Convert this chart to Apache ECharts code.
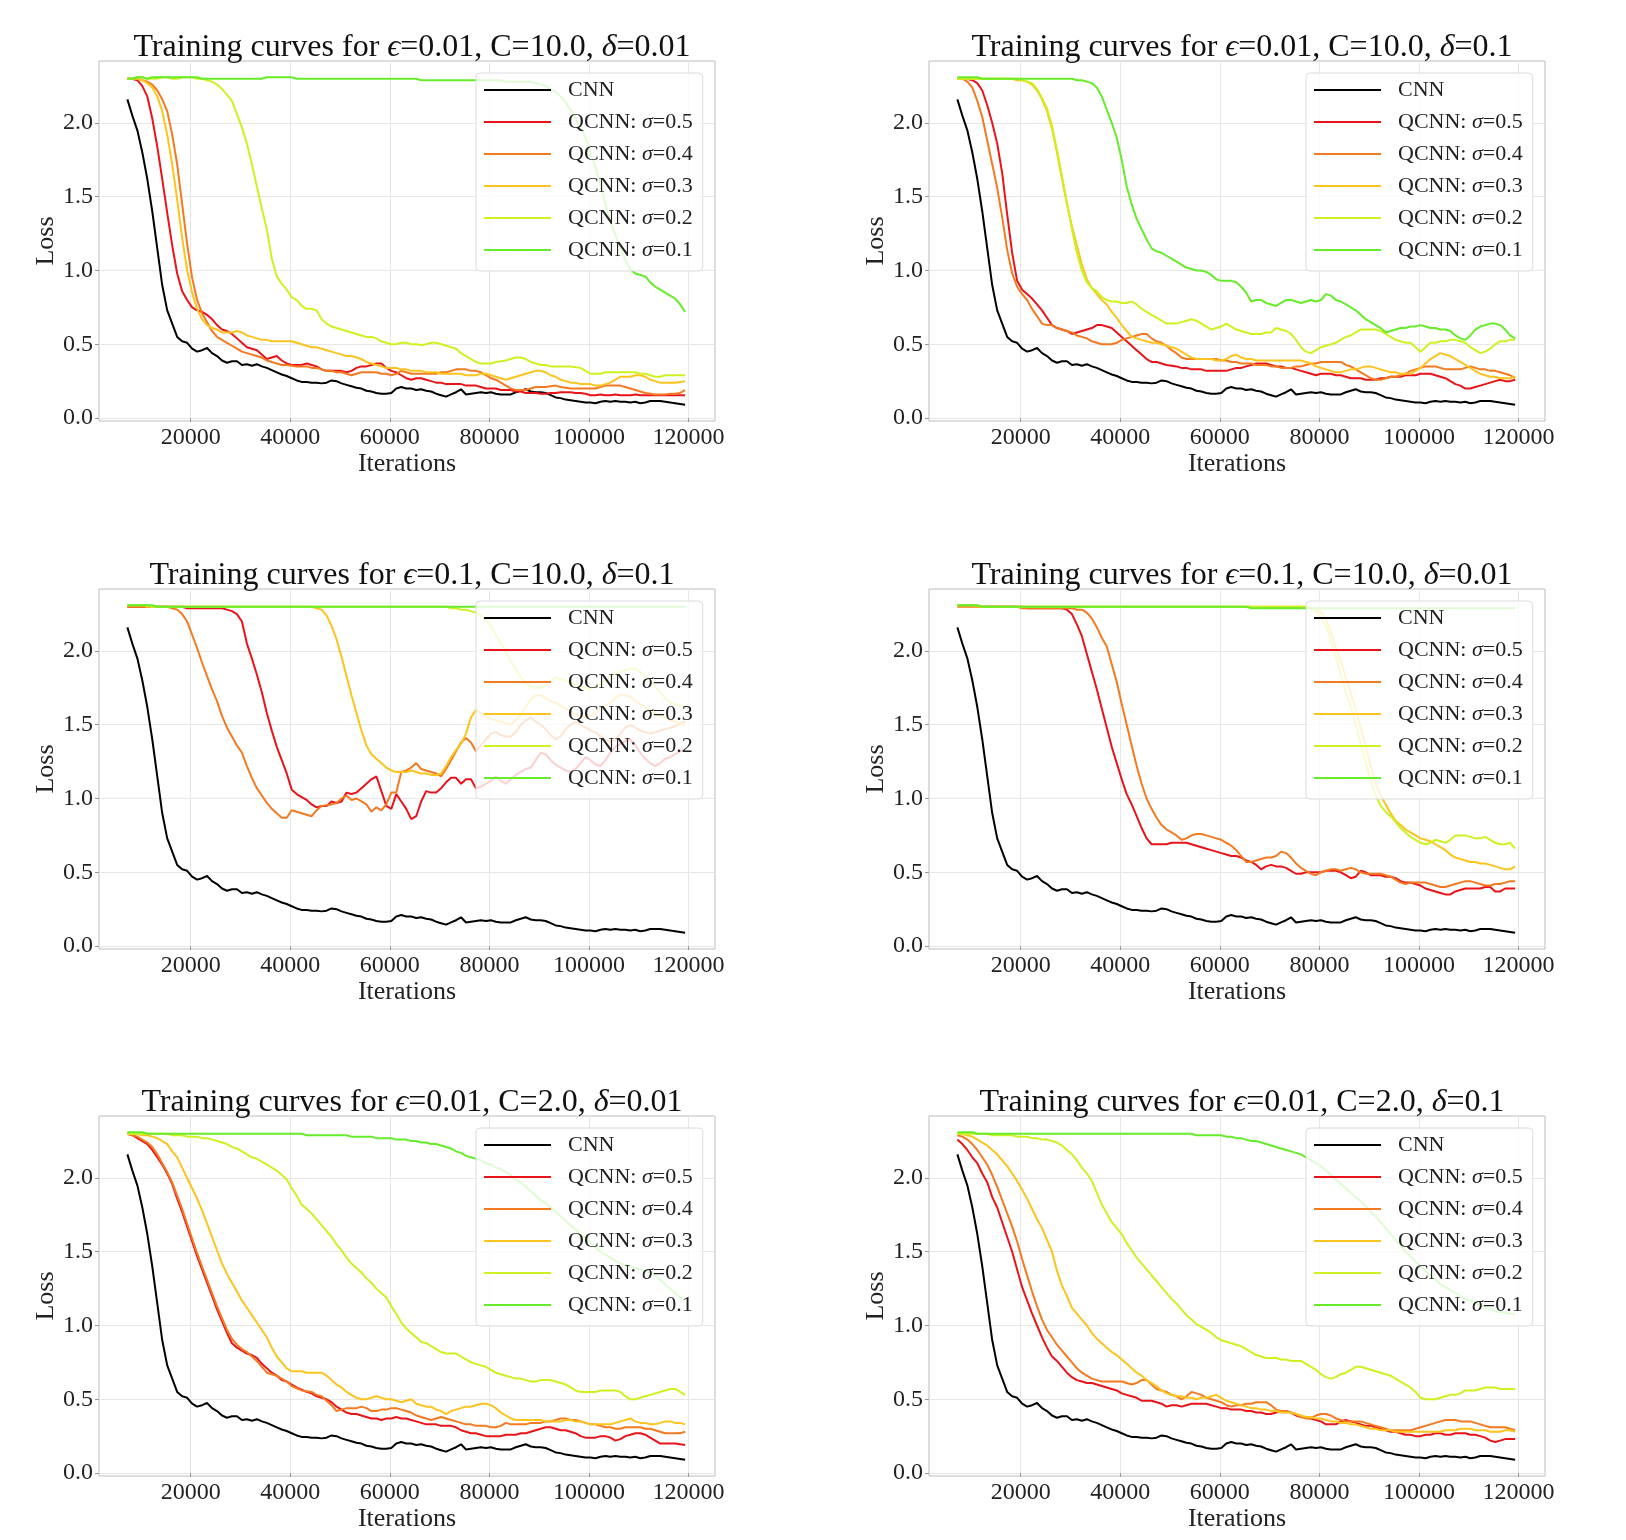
<!DOCTYPE html>
<html><head><meta charset="utf-8">
<script src="https://cdn.jsdelivr.net/npm/echarts@6/dist/echarts.min.js"></script>
<style>html,body{margin:0;padding:0;background:#fff}#c{width:1626px;height:1540px}</style>
</head><body><div id="c"></div><script>
// ---------- data ----------
const ITER = [
 7300, 8300, 9300, 10300, 11300, 12300, 13300, 14300, 15300, 16300,
 17300, 18300, 19300, 20300, 21300, 22300, 23300, 24300, 25300, 26300,
 27300, 28300, 29300, 30300, 31300, 32300, 33300, 34300, 35300, 36300,
 37300, 38300, 39300, 40300, 41300, 42300, 43300, 44300, 45300, 46300,
 47300, 48300, 49300, 50300, 51300, 52300, 53300, 54300, 55300, 56300,
 57300, 58300, 59300, 60300, 61300, 62300, 63300, 64300, 65300, 66300,
 67300, 68300, 69300, 70300, 71300, 72300, 73300, 74300, 75300, 76300,
 77300, 78300, 79300, 80300, 81300, 82300, 83300, 84300, 85300, 86300,
 87300, 88300, 89300, 90300, 91300, 92300, 93300, 94300, 95300, 96300,
 97300, 98300, 99300, 100300, 101300, 102300, 103300, 104300, 105300, 106300,
 107300, 108300, 109300, 110300, 111300, 112300, 113300, 114300, 115300, 116300,
 117300, 118300, 119300];

const X_TICKS = [20000, 40000, 60000, 80000, 100000, 120000];
const Y_TICKS = [0, 0.5, 1.0, 1.5, 2.0];

const SERIES_NAMES = ['CNN', 'QCNN: σ=0.5', 'QCNN: σ=0.4', 'QCNN: σ=0.3', 'QCNN: σ=0.2', 'QCNN: σ=0.1'];
const SERIES_COLORS = ['#000000', '#e8141a', '#f47a22', '#fcc41e', '#cdf222', '#66ec2a'];

const PANEL_TITLES = [
 ['0.01', '10.0', '0.01'],
 ['0.01', '10.0', '0.1'],
 ['0.1', '10.0', '0.1'],
 ['0.1', '10.0', '0.01'],
 ['0.01', '2.0', '0.01'],
 ['0.01', '2.0', '0.1']];

const cnnLoss = [
 2.16, 2.05, 1.95, 1.80, 1.62, 1.40, 1.15, 0.90, 0.73, 0.64,
 0.55, 0.52, 0.51, 0.47, 0.45, 0.46, 0.475, 0.44, 0.42, 0.39,
 0.375, 0.385, 0.385, 0.36, 0.365, 0.355, 0.365, 0.35, 0.34, 0.325,
 0.31, 0.295, 0.285, 0.27, 0.255, 0.245, 0.245, 0.24, 0.24, 0.235,
 0.24, 0.255, 0.25, 0.235, 0.225, 0.215, 0.205, 0.2, 0.185, 0.18,
 0.17, 0.165, 0.165, 0.17, 0.2, 0.21, 0.2, 0.2, 0.19, 0.195,
 0.185, 0.18, 0.165, 0.155, 0.145, 0.16, 0.175, 0.195, 0.16, 0.165,
 0.17, 0.175, 0.17, 0.175, 0.165, 0.16, 0.16, 0.16, 0.175, 0.185,
 0.195, 0.18, 0.175, 0.175, 0.17, 0.155, 0.14, 0.135, 0.125, 0.12,
 0.115, 0.11, 0.105, 0.105, 0.1, 0.11, 0.115, 0.11, 0.115, 0.11,
 0.11, 0.105, 0.11, 0.1, 0.105, 0.115, 0.115, 0.115, 0.11, 0.105,
 0.1, 0.095, 0.09];

// Panel 1: eps=0.01, C=10.0, delta=0.01
const p1_s05 = [
 2.30, 2.30, 2.29, 2.25, 2.18, 2.03, 1.84, 1.62, 1.39, 1.17,
 0.98, 0.86, 0.80, 0.75, 0.73, 0.72, 0.70, 0.67, 0.63, 0.60,
 0.59, 0.57, 0.54, 0.51, 0.48, 0.47, 0.46, 0.43, 0.40, 0.41,
 0.42, 0.39, 0.37, 0.36, 0.36, 0.36, 0.37, 0.36, 0.35, 0.33,
 0.32, 0.32, 0.32, 0.32, 0.31, 0.32, 0.34, 0.35, 0.35, 0.36,
 0.37, 0.37, 0.34, 0.32, 0.31, 0.29, 0.27, 0.26, 0.27, 0.27,
 0.26, 0.25, 0.24, 0.24, 0.23, 0.23, 0.23, 0.23, 0.22, 0.22,
 0.22, 0.21, 0.20, 0.20, 0.20, 0.19, 0.19, 0.19, 0.18, 0.18,
 0.17, 0.17, 0.17, 0.165, 0.165, 0.17, 0.17, 0.175, 0.175, 0.175,
 0.17, 0.17, 0.165, 0.155, 0.155, 0.16, 0.155, 0.155, 0.16, 0.155,
 0.155, 0.155, 0.16, 0.155, 0.155, 0.155, 0.155, 0.155, 0.155, 0.155,
 0.155, 0.155, 0.155];
const p1_s04 = [
 2.30, 2.30, 2.30, 2.29, 2.28, 2.26, 2.22, 2.16, 2.08, 1.92,
 1.72, 1.45, 1.18, 0.95, 0.80, 0.71, 0.65, 0.59, 0.55, 0.53,
 0.51, 0.49, 0.47, 0.45, 0.44, 0.43, 0.42, 0.41, 0.39, 0.38,
 0.37, 0.36, 0.36, 0.355, 0.35, 0.35, 0.35, 0.34, 0.34, 0.33,
 0.32, 0.32, 0.31, 0.31, 0.30, 0.29, 0.30, 0.31, 0.31, 0.31,
 0.31, 0.30, 0.30, 0.29, 0.30, 0.32, 0.31, 0.30, 0.30, 0.30,
 0.30, 0.30, 0.30, 0.31, 0.31, 0.32, 0.33, 0.33, 0.33, 0.32,
 0.32, 0.31, 0.29, 0.27, 0.26, 0.24, 0.22, 0.20, 0.19, 0.19,
 0.19, 0.20, 0.21, 0.21, 0.21, 0.215, 0.22, 0.21, 0.205, 0.20,
 0.20, 0.20, 0.20, 0.20, 0.20, 0.21, 0.22, 0.22, 0.22, 0.22,
 0.21, 0.20, 0.19, 0.18, 0.17, 0.165, 0.16, 0.16, 0.16, 0.165,
 0.165, 0.17, 0.19];
const p1_s03 = [
 2.30, 2.30, 2.30, 2.29, 2.27, 2.24, 2.18, 2.08, 1.92, 1.72,
 1.48, 1.22, 1.00, 0.85, 0.74, 0.67, 0.63, 0.61, 0.60, 0.58,
 0.58, 0.58, 0.59, 0.58, 0.56, 0.55, 0.54, 0.53, 0.53, 0.52,
 0.52, 0.52, 0.52, 0.52, 0.51, 0.50, 0.49, 0.48, 0.48, 0.47,
 0.46, 0.45, 0.44, 0.43, 0.42, 0.42, 0.41, 0.40, 0.38, 0.37,
 0.36, 0.35, 0.34, 0.34, 0.34, 0.33, 0.33, 0.32, 0.32, 0.32,
 0.31, 0.31, 0.31, 0.30, 0.30, 0.30, 0.30, 0.30, 0.29, 0.29,
 0.29, 0.30, 0.30, 0.29, 0.28, 0.27, 0.26, 0.27, 0.28, 0.29,
 0.30, 0.31, 0.32, 0.32, 0.31, 0.29, 0.28, 0.26, 0.25, 0.24,
 0.24, 0.23, 0.23, 0.23, 0.22, 0.22, 0.23, 0.24, 0.26, 0.28,
 0.28, 0.28, 0.29, 0.29, 0.28, 0.26, 0.25, 0.24, 0.24, 0.24,
 0.24, 0.245, 0.25];
const p1_s02 = [
 2.30, 2.30, 2.31, 2.31, 2.30, 2.30, 2.30, 2.31, 2.31, 2.30,
 2.30, 2.31, 2.31, 2.31, 2.30, 2.30, 2.29, 2.28, 2.26, 2.23,
 2.19, 2.15, 2.06, 1.97, 1.86, 1.72, 1.57, 1.42, 1.28, 1.08,
 0.96, 0.91, 0.87, 0.82, 0.80, 0.76, 0.74, 0.74, 0.73, 0.67,
 0.64, 0.62, 0.61, 0.60, 0.59, 0.58, 0.57, 0.56, 0.55, 0.55,
 0.54, 0.52, 0.51, 0.50, 0.50, 0.51, 0.51, 0.50, 0.50, 0.495,
 0.50, 0.51, 0.51, 0.50, 0.49, 0.48, 0.47, 0.44, 0.42, 0.40,
 0.38, 0.37, 0.37, 0.37, 0.38, 0.385, 0.39, 0.40, 0.41, 0.41,
 0.40, 0.38, 0.37, 0.36, 0.36, 0.35, 0.35, 0.35, 0.35, 0.35,
 0.345, 0.34, 0.32, 0.30, 0.30, 0.30, 0.31, 0.31, 0.31, 0.31,
 0.31, 0.31, 0.31, 0.30, 0.30, 0.29, 0.28, 0.28, 0.29, 0.29,
 0.29, 0.29, 0.29];
const p1_s01 = [
 2.30, 2.30, 2.31, 2.31, 2.30, 2.31, 2.31, 2.31, 2.31, 2.31,
 2.31, 2.31, 2.31, 2.31, 2.31, 2.30, 2.30, 2.30, 2.30, 2.30,
 2.30, 2.30, 2.30, 2.30, 2.30, 2.30, 2.30, 2.30, 2.31, 2.31,
 2.31, 2.31, 2.31, 2.31, 2.30, 2.30, 2.30, 2.30, 2.30, 2.30,
 2.30, 2.30, 2.30, 2.30, 2.30, 2.30, 2.30, 2.30, 2.30, 2.30,
 2.30, 2.30, 2.30, 2.30, 2.30, 2.30, 2.30, 2.30, 2.30, 2.29,
 2.29, 2.29, 2.29, 2.29, 2.29, 2.29, 2.29, 2.29, 2.29, 2.29,
 2.29, 2.29, 2.29, 2.29, 2.29, 2.29, 2.28, 2.28, 2.28, 2.28,
 2.28, 2.28, 2.27, 2.26, 2.25, 2.23, 2.21, 2.18, 2.14, 2.09,
 2.03, 1.97, 1.90, 1.80, 1.70, 1.58, 1.45, 1.33, 1.24, 1.15,
 1.07, 1.01, 0.98, 0.97, 0.96, 0.92, 0.89, 0.87, 0.85, 0.83,
 0.81, 0.77, 0.72];

// Panel 2: eps=0.01, C=10.0, delta=0.1
const p2_s05 = [
 2.30, 2.30, 2.30, 2.29, 2.27, 2.22, 2.12, 2.00, 1.86, 1.66,
 1.38, 1.12, 0.93, 0.87, 0.84, 0.81, 0.77, 0.73, 0.68, 0.63,
 0.61, 0.60, 0.59, 0.57, 0.58, 0.59, 0.60, 0.61, 0.63, 0.63,
 0.62, 0.61, 0.58, 0.55, 0.52, 0.49, 0.46, 0.43, 0.40, 0.38,
 0.38, 0.37, 0.36, 0.355, 0.35, 0.34, 0.34, 0.33, 0.33, 0.33,
 0.32, 0.32, 0.32, 0.32, 0.32, 0.33, 0.34, 0.34, 0.35, 0.36,
 0.37, 0.37, 0.37, 0.36, 0.35, 0.35, 0.34, 0.34, 0.33, 0.32,
 0.31, 0.30, 0.29, 0.30, 0.30, 0.30, 0.29, 0.29, 0.28, 0.27,
 0.27, 0.27, 0.26, 0.26, 0.26, 0.27, 0.27, 0.28, 0.28, 0.28,
 0.29, 0.29, 0.29, 0.30, 0.30, 0.30, 0.29, 0.28, 0.27, 0.25,
 0.23, 0.22, 0.20, 0.20, 0.21, 0.22, 0.23, 0.24, 0.25, 0.26,
 0.25, 0.25, 0.26];
const p2_s04 = [
 2.30, 2.30, 2.28, 2.24, 2.15, 2.04, 1.88, 1.72, 1.56, 1.36,
 1.14, 0.98, 0.89, 0.84, 0.80, 0.74, 0.69, 0.64, 0.63, 0.63,
 0.61, 0.60, 0.59, 0.58, 0.56, 0.55, 0.54, 0.52, 0.51, 0.50,
 0.50, 0.50, 0.51, 0.53, 0.54, 0.55, 0.56, 0.57, 0.57, 0.54,
 0.52, 0.51, 0.49, 0.46, 0.44, 0.41, 0.40, 0.40, 0.40, 0.40,
 0.40, 0.40, 0.40, 0.39, 0.39, 0.38, 0.38, 0.37, 0.37, 0.37,
 0.36, 0.36, 0.36, 0.35, 0.35, 0.34, 0.34, 0.34, 0.35, 0.35,
 0.36, 0.37, 0.37, 0.38, 0.38, 0.38, 0.38, 0.38, 0.36, 0.35,
 0.33, 0.31, 0.29, 0.27, 0.26, 0.26, 0.27, 0.28, 0.28, 0.29,
 0.30, 0.32, 0.33, 0.34, 0.35, 0.35, 0.35, 0.34, 0.33, 0.33,
 0.33, 0.33, 0.34, 0.35, 0.34, 0.33, 0.33, 0.32, 0.32, 0.31,
 0.30, 0.29, 0.27];
const p2_s03 = [
 2.30, 2.30, 2.30, 2.30, 2.30, 2.30, 2.30, 2.30, 2.30, 2.30,
 2.30, 2.30, 2.29, 2.29, 2.28, 2.26, 2.22, 2.16, 2.08, 1.96,
 1.80, 1.62, 1.45, 1.30, 1.17, 1.04, 0.94, 0.88, 0.84, 0.80,
 0.77, 0.72, 0.68, 0.63, 0.59, 0.55, 0.54, 0.53, 0.52, 0.51,
 0.51, 0.50, 0.49, 0.48, 0.47, 0.45, 0.43, 0.41, 0.40, 0.40,
 0.40, 0.40, 0.39, 0.39, 0.40, 0.42, 0.43, 0.41, 0.40, 0.40,
 0.39, 0.39, 0.39, 0.39, 0.39, 0.39, 0.39, 0.39, 0.39, 0.39,
 0.38, 0.37, 0.35, 0.34, 0.33, 0.32, 0.31, 0.31, 0.32, 0.33,
 0.33, 0.34, 0.35, 0.35, 0.34, 0.33, 0.32, 0.31, 0.31, 0.30,
 0.30, 0.30, 0.32, 0.34, 0.37, 0.40, 0.42, 0.44, 0.43, 0.42,
 0.40, 0.38, 0.36, 0.34, 0.32, 0.30, 0.29, 0.28, 0.28, 0.27,
 0.27, 0.27, 0.28];
const p2_s02 = [
 2.30, 2.30, 2.30, 2.30, 2.30, 2.30, 2.30, 2.30, 2.30, 2.30,
 2.30, 2.30, 2.30, 2.29, 2.28, 2.27, 2.23, 2.17, 2.10, 1.98,
 1.82, 1.64, 1.46, 1.28, 1.12, 1.00, 0.92, 0.88, 0.86, 0.82,
 0.80, 0.79, 0.79, 0.78, 0.78, 0.79, 0.77, 0.74, 0.72, 0.70,
 0.68, 0.66, 0.64, 0.64, 0.64, 0.65, 0.66, 0.67, 0.66, 0.64,
 0.62, 0.60, 0.61, 0.62, 0.64, 0.62, 0.60, 0.59, 0.58, 0.57,
 0.57, 0.57, 0.58, 0.58, 0.61, 0.60, 0.59, 0.57, 0.53, 0.48,
 0.45, 0.44, 0.46, 0.48, 0.49, 0.50, 0.51, 0.53, 0.55, 0.56,
 0.58, 0.60, 0.60, 0.60, 0.60, 0.59, 0.57, 0.55, 0.53, 0.52,
 0.51, 0.51, 0.48, 0.45, 0.48, 0.51, 0.51, 0.52, 0.52, 0.53,
 0.53, 0.52, 0.51, 0.48, 0.46, 0.44, 0.45, 0.47, 0.50, 0.52,
 0.52, 0.53, 0.53];
const p2_s01 = [
 2.31, 2.31, 2.31, 2.31, 2.31, 2.30, 2.30, 2.30, 2.30, 2.30,
 2.30, 2.30, 2.30, 2.30, 2.30, 2.30, 2.30, 2.30, 2.30, 2.30,
 2.30, 2.30, 2.30, 2.30, 2.29, 2.29, 2.28, 2.27, 2.24, 2.18,
 2.09, 2.00, 1.90, 1.75, 1.57, 1.45, 1.35, 1.28, 1.21, 1.15,
 1.13, 1.12, 1.10, 1.08, 1.06, 1.04, 1.02, 1.01, 1.00, 1.00,
 0.99, 0.97, 0.94, 0.93, 0.93, 0.93, 0.92, 0.89, 0.85, 0.79,
 0.80, 0.80, 0.78, 0.77, 0.76, 0.78, 0.80, 0.80, 0.79, 0.78,
 0.79, 0.80, 0.79, 0.80, 0.84, 0.83, 0.80, 0.79, 0.77, 0.75,
 0.73, 0.70, 0.67, 0.65, 0.63, 0.61, 0.58, 0.59, 0.60, 0.61,
 0.61, 0.62, 0.62, 0.63, 0.62, 0.61, 0.61, 0.60, 0.60, 0.59,
 0.56, 0.54, 0.53, 0.56, 0.60, 0.62, 0.63, 0.64, 0.64, 0.63,
 0.60, 0.56, 0.54];

// Panel 3: eps=0.1, C=10.0, delta=0.1
const p3_s05 = [
 2.30, 2.30, 2.30, 2.30, 2.30, 2.30, 2.30, 2.30, 2.30, 2.30,
 2.30, 2.30, 2.29, 2.29, 2.29, 2.29, 2.29, 2.29, 2.29, 2.29,
 2.28, 2.27, 2.25, 2.20, 2.05, 1.95, 1.84, 1.72, 1.58, 1.46,
 1.35, 1.26, 1.17, 1.06, 1.03, 1.01, 0.99, 0.96, 0.94, 0.95,
 0.95, 0.98, 0.97, 0.98, 1.04, 1.03, 1.04, 1.07, 1.10, 1.13,
 1.15, 1.05, 0.95, 0.93, 1.03, 0.98, 0.93, 0.86, 0.88, 0.98,
 1.05, 1.04, 1.04, 1.07, 1.11, 1.14, 1.14, 1.10, 1.13, 1.13,
 1.07, 1.08, 1.10, 1.12, 1.15, 1.12, 1.10, 1.13, 1.16, 1.18,
 1.20, 1.21, 1.26, 1.31, 1.30, 1.26, 1.23, 1.21, 1.19, 1.18,
 1.20, 1.24, 1.28, 1.26, 1.23, 1.22, 1.26, 1.31, 1.35, 1.37,
 1.39, 1.40, 1.36, 1.31, 1.27, 1.24, 1.22, 1.24, 1.27, 1.28,
 1.30, 1.32, 1.33];
const p3_s04 = [
 2.30, 2.30, 2.30, 2.30, 2.30, 2.30, 2.30, 2.30, 2.30, 2.29,
 2.28, 2.25, 2.20, 2.11, 2.02, 1.92, 1.83, 1.74, 1.66, 1.56,
 1.48, 1.42, 1.36, 1.31, 1.22, 1.14, 1.07, 1.02, 0.97, 0.93,
 0.90, 0.87, 0.87, 0.92, 0.91, 0.90, 0.89, 0.88, 0.92, 0.95,
 0.955, 0.96, 0.97, 1.00, 1.02, 0.99, 1.00, 0.98, 0.96, 0.91,
 0.94, 0.92, 0.96, 1.04, 1.04, 1.18, 1.19, 1.21, 1.24, 1.20,
 1.19, 1.18, 1.17, 1.15, 1.20, 1.26, 1.32, 1.38, 1.41, 1.38,
 1.32, 1.36, 1.40, 1.44, 1.45, 1.43, 1.42, 1.42, 1.45, 1.50,
 1.53, 1.55, 1.52, 1.50, 1.47, 1.43, 1.40, 1.42, 1.47, 1.50,
 1.52, 1.50, 1.48, 1.46, 1.45, 1.42, 1.40, 1.38, 1.40, 1.44,
 1.48, 1.50, 1.48, 1.46, 1.45, 1.44, 1.45, 1.46, 1.47, 1.48,
 1.49, 1.51, 1.52];
const p3_s03 = [
 2.31, 2.31, 2.31, 2.31, 2.30, 2.30, 2.30, 2.30, 2.30, 2.30,
 2.30, 2.30, 2.30, 2.30, 2.30, 2.30, 2.30, 2.30, 2.30, 2.30,
 2.30, 2.30, 2.30, 2.30, 2.30, 2.30, 2.30, 2.30, 2.30, 2.30,
 2.30, 2.30, 2.30, 2.30, 2.30, 2.30, 2.30, 2.30, 2.29, 2.28,
 2.24, 2.17, 2.08, 1.96, 1.83, 1.70, 1.58, 1.46, 1.36, 1.30,
 1.27, 1.24, 1.21, 1.19, 1.18, 1.18, 1.18, 1.19, 1.18, 1.17,
 1.17, 1.16, 1.16, 1.17, 1.22, 1.28, 1.33, 1.37, 1.44, 1.55,
 1.60, 1.58, 1.56, 1.54, 1.53, 1.52, 1.51, 1.50, 1.53, 1.57,
 1.62, 1.67, 1.70, 1.70, 1.68, 1.66, 1.65, 1.63, 1.61, 1.59,
 1.57, 1.56, 1.55, 1.56, 1.58, 1.61, 1.63, 1.65, 1.68, 1.70,
 1.70, 1.69, 1.66, 1.64, 1.62, 1.60, 1.58, 1.56, 1.55, 1.53,
 1.52, 1.51, 1.50];
const p3_s02 = [
 2.31, 2.31, 2.31, 2.31, 2.31, 2.30, 2.30, 2.30, 2.30, 2.30,
 2.30, 2.30, 2.30, 2.30, 2.30, 2.30, 2.30, 2.30, 2.30, 2.30,
 2.30, 2.30, 2.30, 2.30, 2.30, 2.30, 2.30, 2.30, 2.30, 2.30,
 2.30, 2.30, 2.30, 2.30, 2.30, 2.30, 2.30, 2.30, 2.30, 2.30,
 2.30, 2.30, 2.30, 2.30, 2.30, 2.30, 2.30, 2.30, 2.30, 2.30,
 2.30, 2.30, 2.30, 2.30, 2.30, 2.30, 2.30, 2.30, 2.30, 2.30,
 2.30, 2.30, 2.30, 2.30, 2.30, 2.29, 2.29, 2.28, 2.28, 2.27,
 2.26, 2.24, 2.21, 2.17, 2.11, 2.05, 1.99, 1.93, 1.88, 1.82,
 1.78, 1.76, 1.75, 1.75, 1.77, 1.80, 1.82, 1.81, 1.80, 1.78,
 1.77, 1.76, 1.75, 1.74, 1.76, 1.78, 1.80, 1.83, 1.85, 1.86,
 1.87, 1.88, 1.88, 1.86, 1.83, 1.80, 1.76, 1.72, 1.68, 1.65,
 1.64, 1.63, 1.62];
const p3_s01 = [
 2.31, 2.31, 2.31, 2.31, 2.31, 2.31, 2.30, 2.30, 2.30, 2.30,
 2.30, 2.30, 2.30, 2.30, 2.30, 2.30, 2.30, 2.30, 2.30, 2.30,
 2.30, 2.30, 2.30, 2.30, 2.30, 2.30, 2.30, 2.30, 2.30, 2.30,
 2.30, 2.30, 2.30, 2.30, 2.30, 2.30, 2.30, 2.30, 2.30, 2.30,
 2.30, 2.30, 2.30, 2.30, 2.30, 2.30, 2.30, 2.30, 2.30, 2.30,
 2.30, 2.30, 2.30, 2.30, 2.30, 2.30, 2.30, 2.30, 2.30, 2.30,
 2.30, 2.30, 2.30, 2.30, 2.30, 2.30, 2.30, 2.30, 2.30, 2.30,
 2.30, 2.30, 2.30, 2.30, 2.30, 2.30, 2.30, 2.30, 2.30, 2.30,
 2.30, 2.30, 2.30, 2.30, 2.30, 2.30, 2.30, 2.30, 2.30, 2.30,
 2.30, 2.30, 2.30, 2.30, 2.30, 2.30, 2.30, 2.30, 2.30, 2.30,
 2.30, 2.30, 2.30, 2.30, 2.30, 2.30, 2.30, 2.30, 2.30, 2.30,
 2.30, 2.30, 2.30];

// Panel 4: eps=0.1, C=10.0, delta=0.01
const p4_s05 = [
 2.31, 2.31, 2.31, 2.31, 2.30, 2.30, 2.30, 2.30, 2.30, 2.30,
 2.30, 2.30, 2.30, 2.30, 2.29, 2.29, 2.29, 2.29, 2.29, 2.29,
 2.29, 2.29, 2.28, 2.25, 2.18, 2.10, 1.98, 1.86, 1.74, 1.61,
 1.48, 1.35, 1.24, 1.13, 1.03, 0.96, 0.88, 0.80, 0.73, 0.69,
 0.69, 0.69, 0.69, 0.70, 0.70, 0.70, 0.70, 0.69, 0.68, 0.67,
 0.66, 0.65, 0.64, 0.63, 0.62, 0.61, 0.61, 0.60, 0.58, 0.57,
 0.55, 0.52, 0.54, 0.55, 0.54, 0.54, 0.53, 0.51, 0.49, 0.49,
 0.50, 0.50, 0.50, 0.50, 0.51, 0.51, 0.51, 0.50, 0.48, 0.46,
 0.47, 0.51, 0.50, 0.48, 0.48, 0.48, 0.47, 0.47, 0.46, 0.44,
 0.43, 0.43, 0.42, 0.41, 0.39, 0.38, 0.37, 0.36, 0.35, 0.35,
 0.37, 0.38, 0.39, 0.39, 0.39, 0.39, 0.40, 0.40, 0.37, 0.37,
 0.39, 0.39, 0.39];
const p4_s04 = [
 2.30, 2.30, 2.30, 2.30, 2.30, 2.30, 2.30, 2.30, 2.30, 2.30,
 2.30, 2.30, 2.30, 2.29, 2.29, 2.29, 2.29, 2.29, 2.29, 2.29,
 2.29, 2.29, 2.29, 2.29, 2.28, 2.28, 2.26, 2.22, 2.16, 2.09,
 2.03, 1.91, 1.79, 1.64, 1.50, 1.36, 1.22, 1.10, 1.00, 0.93,
 0.87, 0.82, 0.79, 0.77, 0.75, 0.72, 0.73, 0.75, 0.76, 0.76,
 0.75, 0.74, 0.73, 0.72, 0.70, 0.68, 0.65, 0.61, 0.57, 0.57,
 0.58, 0.59, 0.60, 0.60, 0.61, 0.64, 0.63, 0.60, 0.56, 0.53,
 0.51, 0.49, 0.48, 0.50, 0.51, 0.52, 0.52, 0.51, 0.52, 0.53,
 0.52, 0.50, 0.49, 0.49, 0.49, 0.49, 0.48, 0.47, 0.45, 0.43,
 0.42, 0.43, 0.43, 0.43, 0.43, 0.42, 0.41, 0.40, 0.40, 0.41,
 0.42, 0.43, 0.44, 0.44, 0.43, 0.42, 0.41, 0.41, 0.42, 0.42,
 0.43, 0.44, 0.44];
const p4_s03 = [
 2.31, 2.31, 2.31, 2.31, 2.30, 2.30, 2.30, 2.30, 2.30, 2.30,
 2.30, 2.30, 2.30, 2.30, 2.30, 2.30, 2.30, 2.30, 2.30, 2.30,
 2.30, 2.30, 2.30, 2.30, 2.30, 2.30, 2.30, 2.30, 2.30, 2.30,
 2.30, 2.30, 2.30, 2.30, 2.30, 2.30, 2.30, 2.30, 2.30, 2.30,
 2.30, 2.30, 2.30, 2.30, 2.30, 2.30, 2.30, 2.30, 2.30, 2.30,
 2.30, 2.30, 2.30, 2.30, 2.30, 2.30, 2.30, 2.30, 2.30, 2.30,
 2.30, 2.30, 2.30, 2.30, 2.30, 2.30, 2.30, 2.30, 2.30, 2.30,
 2.30, 2.29, 2.28, 2.26, 2.22, 2.13, 2.02, 1.93, 1.82, 1.72,
 1.60, 1.48, 1.35, 1.22, 1.10, 1.02, 0.96, 0.90, 0.85, 0.82,
 0.79, 0.77, 0.75, 0.73, 0.72, 0.71, 0.69, 0.67, 0.65, 0.62,
 0.60, 0.59, 0.58, 0.57, 0.57, 0.56, 0.56, 0.55, 0.54, 0.53,
 0.52, 0.52, 0.54];
const p4_s02 = [
 2.31, 2.31, 2.31, 2.31, 2.31, 2.30, 2.30, 2.30, 2.30, 2.30,
 2.30, 2.30, 2.30, 2.30, 2.30, 2.30, 2.30, 2.30, 2.30, 2.30,
 2.30, 2.30, 2.30, 2.30, 2.30, 2.30, 2.30, 2.30, 2.30, 2.30,
 2.30, 2.30, 2.30, 2.30, 2.30, 2.30, 2.30, 2.30, 2.30, 2.30,
 2.30, 2.30, 2.30, 2.30, 2.30, 2.30, 2.30, 2.30, 2.30, 2.30,
 2.30, 2.30, 2.30, 2.30, 2.30, 2.30, 2.30, 2.30, 2.30, 2.30,
 2.30, 2.30, 2.30, 2.30, 2.30, 2.30, 2.30, 2.30, 2.30, 2.30,
 2.30, 2.29, 2.27, 2.23, 2.17, 2.07, 1.96, 1.84, 1.72, 1.62,
 1.50, 1.37, 1.24, 1.12, 1.02, 0.95, 0.91, 0.88, 0.84, 0.80,
 0.77, 0.74, 0.72, 0.70, 0.69, 0.70, 0.72, 0.71, 0.70, 0.72,
 0.75, 0.75, 0.75, 0.74, 0.73, 0.73, 0.74, 0.72, 0.70, 0.69,
 0.69, 0.70, 0.66];
const p4_s01 = [
 2.31, 2.31, 2.31, 2.31, 2.31, 2.30, 2.30, 2.30, 2.30, 2.30,
 2.30, 2.30, 2.30, 2.30, 2.30, 2.30, 2.30, 2.30, 2.30, 2.30,
 2.30, 2.30, 2.30, 2.30, 2.30, 2.30, 2.30, 2.30, 2.30, 2.30,
 2.30, 2.30, 2.30, 2.30, 2.30, 2.30, 2.30, 2.30, 2.30, 2.30,
 2.30, 2.30, 2.30, 2.30, 2.30, 2.30, 2.30, 2.30, 2.30, 2.30,
 2.30, 2.30, 2.30, 2.30, 2.30, 2.30, 2.30, 2.30, 2.30, 2.29,
 2.29, 2.29, 2.29, 2.29, 2.29, 2.29, 2.29, 2.29, 2.29, 2.29,
 2.29, 2.29, 2.29, 2.29, 2.29, 2.29, 2.29, 2.29, 2.29, 2.29,
 2.29, 2.29, 2.29, 2.29, 2.29, 2.29, 2.29, 2.29, 2.29, 2.29,
 2.29, 2.29, 2.29, 2.29, 2.29, 2.29, 2.29, 2.29, 2.29, 2.29,
 2.29, 2.29, 2.29, 2.29, 2.29, 2.29, 2.29, 2.29, 2.29, 2.29,
 2.29, 2.29, 2.29];

// Panel 5: eps=0.01, C=2.0, delta=0.01
const p5_s05 = [
 2.30, 2.29, 2.27, 2.25, 2.23, 2.19, 2.14, 2.09, 2.03, 1.96,
 1.86, 1.77, 1.67, 1.57, 1.47, 1.38, 1.29, 1.20, 1.11, 1.03,
 0.95, 0.88, 0.85, 0.83, 0.81, 0.80, 0.78, 0.74, 0.71, 0.68,
 0.66, 0.63, 0.62, 0.60, 0.58, 0.565, 0.55, 0.54, 0.52, 0.51,
 0.50, 0.48, 0.45, 0.43, 0.41, 0.40, 0.40, 0.39, 0.38, 0.37,
 0.37, 0.36, 0.37, 0.37, 0.38, 0.37, 0.37, 0.36, 0.35, 0.34,
 0.33, 0.33, 0.33, 0.32, 0.32, 0.32, 0.31, 0.29, 0.28, 0.27,
 0.27, 0.26, 0.25, 0.25, 0.25, 0.25, 0.26, 0.26, 0.26, 0.27,
 0.27, 0.28, 0.29, 0.30, 0.31, 0.31, 0.30, 0.29, 0.29, 0.28,
 0.27, 0.25, 0.24, 0.24, 0.24, 0.25, 0.25, 0.24, 0.22, 0.23,
 0.25, 0.26, 0.27, 0.27, 0.26, 0.24, 0.22, 0.20, 0.20, 0.20,
 0.20, 0.195, 0.19];
const p5_s04 = [
 2.30, 2.29, 2.28, 2.26, 2.24, 2.21, 2.16, 2.10, 2.04, 1.97,
 1.88, 1.79, 1.69, 1.59, 1.49, 1.40, 1.31, 1.22, 1.13, 1.05,
 0.97, 0.91, 0.87, 0.84, 0.82, 0.79, 0.76, 0.72, 0.68, 0.67,
 0.66, 0.64, 0.62, 0.59, 0.575, 0.56, 0.555, 0.55, 0.53, 0.52,
 0.49, 0.46, 0.42, 0.43, 0.44, 0.44, 0.44, 0.45, 0.44, 0.42,
 0.42, 0.43, 0.43, 0.44, 0.44, 0.43, 0.42, 0.41, 0.39, 0.38,
 0.37, 0.36, 0.37, 0.38, 0.37, 0.36, 0.35, 0.34, 0.33, 0.33,
 0.32, 0.32, 0.32, 0.31, 0.31, 0.32, 0.34, 0.33, 0.33, 0.33,
 0.33, 0.34, 0.34, 0.34, 0.35, 0.35, 0.36, 0.37, 0.37, 0.36,
 0.36, 0.35, 0.34, 0.33, 0.33, 0.32, 0.31, 0.31, 0.30, 0.30,
 0.31, 0.31, 0.31, 0.31, 0.30, 0.30, 0.29, 0.28, 0.27, 0.27,
 0.27, 0.27, 0.28];
const p5_s03 = [
 2.30, 2.30, 2.30, 2.29, 2.29, 2.28, 2.27, 2.25, 2.23, 2.18,
 2.14, 2.07, 2.00, 1.93, 1.86, 1.78, 1.69, 1.60, 1.51, 1.42,
 1.35, 1.29, 1.23, 1.17, 1.12, 1.07, 1.02, 0.97, 0.92, 0.85,
 0.79, 0.75, 0.71, 0.69, 0.69, 0.69, 0.68, 0.68, 0.68, 0.68,
 0.66, 0.63, 0.60, 0.58, 0.55, 0.53, 0.51, 0.50, 0.50, 0.51,
 0.52, 0.51, 0.50, 0.50, 0.49, 0.48, 0.49, 0.50, 0.47, 0.46,
 0.45, 0.45, 0.43, 0.42, 0.40, 0.42, 0.43, 0.44, 0.45, 0.45,
 0.46, 0.47, 0.47, 0.46, 0.44, 0.41, 0.39, 0.37, 0.36, 0.36,
 0.36, 0.36, 0.36, 0.36, 0.35, 0.35, 0.35, 0.35, 0.36, 0.36,
 0.35, 0.35, 0.34, 0.33, 0.33, 0.33, 0.33, 0.33, 0.34, 0.35,
 0.36, 0.37, 0.35, 0.34, 0.34, 0.33, 0.33, 0.34, 0.35, 0.35,
 0.34, 0.34, 0.33];
const p5_s02 = [
 2.30, 2.30, 2.30, 2.30, 2.30, 2.30, 2.30, 2.30, 2.30, 2.29,
 2.29, 2.29, 2.28, 2.28, 2.28, 2.27, 2.27, 2.26, 2.25, 2.24,
 2.23, 2.21, 2.20, 2.18, 2.16, 2.14, 2.13, 2.11, 2.09, 2.07,
 2.05, 2.02, 1.99, 1.93, 1.88, 1.82, 1.79, 1.76, 1.72, 1.68,
 1.64, 1.60, 1.55, 1.51, 1.46, 1.42, 1.39, 1.36, 1.32, 1.29,
 1.25, 1.22, 1.19, 1.13, 1.08, 1.02, 0.98, 0.95, 0.92, 0.89,
 0.88, 0.86, 0.84, 0.82, 0.81, 0.81, 0.81, 0.79, 0.77, 0.75,
 0.74, 0.73, 0.72, 0.70, 0.68, 0.67, 0.66, 0.65, 0.64, 0.64,
 0.63, 0.62, 0.62, 0.63, 0.63, 0.63, 0.62, 0.61, 0.60, 0.58,
 0.56, 0.55, 0.55, 0.55, 0.55, 0.56, 0.56, 0.56, 0.56, 0.55,
 0.52, 0.50, 0.50, 0.51, 0.52, 0.53, 0.54, 0.55, 0.56, 0.57,
 0.57, 0.55, 0.53];
const p5_s01 = [
 2.31, 2.31, 2.31, 2.31, 2.30, 2.30, 2.30, 2.30, 2.30, 2.30,
 2.30, 2.30, 2.30, 2.30, 2.30, 2.30, 2.30, 2.30, 2.30, 2.30,
 2.30, 2.30, 2.30, 2.30, 2.30, 2.30, 2.30, 2.30, 2.30, 2.30,
 2.30, 2.30, 2.30, 2.30, 2.30, 2.30, 2.29, 2.29, 2.29, 2.29,
 2.29, 2.29, 2.29, 2.29, 2.29, 2.28, 2.28, 2.28, 2.28, 2.28,
 2.27, 2.27, 2.27, 2.27, 2.26, 2.26, 2.26, 2.25, 2.25, 2.24,
 2.24, 2.23, 2.23, 2.22, 2.21, 2.20, 2.18, 2.17, 2.15, 2.14,
 2.13, 2.12, 2.10, 2.09, 2.07, 2.06, 2.04, 2.02, 1.99, 1.97,
 1.94, 1.91, 1.88, 1.85, 1.83, 1.80, 1.77, 1.74, 1.71, 1.68,
 1.65, 1.62, 1.59, 1.56, 1.53, 1.50, 1.48, 1.46, 1.44, 1.42,
 1.41, 1.40, 1.39, 1.38, 1.37, 1.36, 1.34, 1.31, 1.28, 1.25,
 1.22, 1.19, 1.17];

// Panel 6: eps=0.01, C=2.0, delta=0.1
const p6_s05 = [
 2.26, 2.23, 2.19, 2.14, 2.10, 2.03, 1.97, 1.87, 1.80, 1.70,
 1.60, 1.50, 1.38, 1.26, 1.17, 1.08, 1.00, 0.92, 0.85, 0.79,
 0.76, 0.72, 0.68, 0.65, 0.63, 0.62, 0.61, 0.61, 0.60, 0.59,
 0.58, 0.57, 0.56, 0.54, 0.53, 0.52, 0.51, 0.49, 0.49, 0.49,
 0.48, 0.47, 0.45, 0.46, 0.46, 0.45, 0.46, 0.47, 0.47, 0.47,
 0.47, 0.46, 0.45, 0.44, 0.44, 0.43, 0.43, 0.43, 0.42, 0.42,
 0.41, 0.41, 0.40, 0.40, 0.41, 0.42, 0.42, 0.41, 0.39, 0.38,
 0.38, 0.37, 0.36, 0.35, 0.33, 0.33, 0.33, 0.35, 0.36, 0.35,
 0.34, 0.33, 0.32, 0.32, 0.31, 0.30, 0.29, 0.28, 0.28, 0.27,
 0.26, 0.26, 0.25, 0.25, 0.26, 0.26, 0.27, 0.27, 0.26, 0.26,
 0.27, 0.27, 0.27, 0.26, 0.26, 0.25, 0.24, 0.22, 0.21, 0.22,
 0.23, 0.23, 0.23];
const p6_s04 = [
 2.29, 2.28, 2.26, 2.23, 2.19, 2.14, 2.09, 2.02, 1.94, 1.85,
 1.76, 1.67, 1.57, 1.45, 1.34, 1.23, 1.13, 1.04, 0.97, 0.92,
 0.87, 0.83, 0.79, 0.75, 0.71, 0.68, 0.66, 0.64, 0.63, 0.62,
 0.62, 0.62, 0.62, 0.62, 0.61, 0.60, 0.61, 0.63, 0.63, 0.60,
 0.57, 0.56, 0.55, 0.53, 0.52, 0.50, 0.52, 0.55, 0.54, 0.53,
 0.51, 0.50, 0.49, 0.48, 0.46, 0.45, 0.46, 0.46, 0.47, 0.47,
 0.48, 0.48, 0.48, 0.46, 0.43, 0.42, 0.42, 0.41, 0.40, 0.38,
 0.37, 0.37, 0.39, 0.40, 0.40, 0.39, 0.37, 0.36, 0.35, 0.35,
 0.35, 0.35, 0.34, 0.33, 0.32, 0.31, 0.30, 0.29, 0.29, 0.29,
 0.29, 0.29, 0.30, 0.31, 0.32, 0.33, 0.34, 0.35, 0.36, 0.36,
 0.36, 0.35, 0.35, 0.35, 0.34, 0.33, 0.32, 0.31, 0.31, 0.31,
 0.31, 0.30, 0.29];
const p6_s03 = [
 2.30, 2.30, 2.29, 2.28, 2.26, 2.24, 2.22, 2.19, 2.16, 2.12,
 2.08, 2.03, 1.98, 1.92, 1.86, 1.79, 1.72, 1.66, 1.58, 1.50,
 1.37, 1.27, 1.20, 1.12, 1.08, 1.04, 1.00, 0.95, 0.91, 0.88,
 0.85, 0.82, 0.80, 0.77, 0.74, 0.71, 0.68, 0.66, 0.63, 0.61,
 0.59, 0.56, 0.54, 0.53, 0.52, 0.52, 0.51, 0.51, 0.50, 0.51,
 0.51, 0.52, 0.53, 0.51, 0.49, 0.48, 0.47, 0.46, 0.45, 0.44,
 0.44, 0.43, 0.43, 0.42, 0.42, 0.41, 0.41, 0.41, 0.40, 0.39,
 0.38, 0.38, 0.37, 0.37, 0.36, 0.35, 0.35, 0.34, 0.34, 0.33,
 0.33, 0.32, 0.31, 0.30, 0.30, 0.29, 0.29, 0.29, 0.28, 0.28,
 0.28, 0.28, 0.28, 0.28, 0.28, 0.28, 0.28, 0.28, 0.29, 0.29,
 0.29, 0.30, 0.30, 0.30, 0.29, 0.29, 0.29, 0.28, 0.28, 0.28,
 0.29, 0.29, 0.28];
const p6_s02 = [
 2.30, 2.30, 2.30, 2.30, 2.30, 2.30, 2.30, 2.29, 2.29, 2.29,
 2.29, 2.29, 2.28, 2.28, 2.28, 2.27, 2.27, 2.26, 2.26, 2.25,
 2.24, 2.22, 2.19, 2.16, 2.12, 2.07, 2.03, 1.98, 1.90, 1.82,
 1.76, 1.70, 1.66, 1.62, 1.56, 1.51, 1.46, 1.42, 1.38, 1.34,
 1.30, 1.26, 1.22, 1.18, 1.15, 1.11, 1.07, 1.04, 1.01, 0.99,
 0.97, 0.95, 0.92, 0.90, 0.89, 0.88, 0.87, 0.86, 0.84, 0.82,
 0.80, 0.79, 0.78, 0.78, 0.78, 0.77, 0.77, 0.76, 0.76, 0.76,
 0.74, 0.72, 0.70, 0.67, 0.65, 0.64, 0.65, 0.67, 0.68, 0.70,
 0.72, 0.72, 0.71, 0.70, 0.69, 0.68, 0.67, 0.66, 0.64, 0.62,
 0.60, 0.58, 0.55, 0.51, 0.50, 0.50, 0.50, 0.51, 0.52, 0.53,
 0.53, 0.54, 0.56, 0.56, 0.56, 0.57, 0.58, 0.58, 0.58, 0.57,
 0.57, 0.57, 0.57];
const p6_s01 = [
 2.31, 2.31, 2.31, 2.31, 2.30, 2.30, 2.30, 2.30, 2.30, 2.30,
 2.30, 2.30, 2.30, 2.30, 2.30, 2.30, 2.30, 2.30, 2.30, 2.30,
 2.30, 2.30, 2.30, 2.30, 2.30, 2.30, 2.30, 2.30, 2.30, 2.30,
 2.30, 2.30, 2.30, 2.30, 2.30, 2.30, 2.30, 2.30, 2.30, 2.30,
 2.30, 2.30, 2.30, 2.30, 2.30, 2.30, 2.30, 2.30, 2.29, 2.29,
 2.29, 2.29, 2.29, 2.29, 2.28, 2.28, 2.27, 2.27, 2.26, 2.25,
 2.25, 2.24, 2.23, 2.22, 2.21, 2.20, 2.19, 2.18, 2.17, 2.16,
 2.14, 2.12, 2.10, 2.08, 2.05, 2.02, 1.99, 1.96, 1.93, 1.90,
 1.87, 1.84, 1.81, 1.77, 1.74, 1.70, 1.66, 1.62, 1.58, 1.54,
 1.50, 1.47, 1.43, 1.40, 1.37, 1.34, 1.31, 1.28, 1.26, 1.24,
 1.22, 1.20, 1.18, 1.17, 1.15, 1.14, 1.12, 1.11, 1.10, 1.09,
 1.09, 1.08, 1.08];

const PANEL_DATA = [
 [cnnLoss, p1_s05, p1_s04, p1_s03, p1_s02, p1_s01],
 [cnnLoss, p2_s05, p2_s04, p2_s03, p2_s02, p2_s01],
 [cnnLoss, p3_s05, p3_s04, p3_s03, p3_s02, p3_s01],
 [cnnLoss, p4_s05, p4_s04, p4_s03, p4_s02, p4_s01],
 [cnnLoss, p5_s05, p5_s04, p5_s03, p5_s02, p5_s01],
 [cnnLoss, p6_s05, p6_s04, p6_s03, p6_s02, p6_s01]];

// ---------- layout ----------
const FONT = "'Liberation Serif', 'DejaVu Serif', serif";
const GRID_POS = [[99, 61], [929, 61], [99, 589], [929, 589], [99, 1116], [929, 1116]];
const GW = 616, GH = 360;

const chart = echarts.init(document.getElementById('c'), null, {renderer: 'canvas'});
const grids = [], xAxes = [], yAxes = [], titles = [], legends = [], series = [];

PANEL_DATA.forEach((panel, p) => {
  const [gl, gt] = GRID_POS[p];
  grids.push({left: gl, top: gt, width: GW, height: GH, show: true,
    borderColor: '#bcbcbc', borderWidth: 1, backgroundColor: 'transparent'});
  xAxes.push({
    gridIndex: p, type: 'value', min: 1600, max: 125300,
    axisLine: {show: false},
    axisTick: {show: true, length: 4, customValues: X_TICKS, lineStyle: {color: '#999'}},
    axisLabel: {customValues: X_TICKS, fontFamily: FONT, fontSize: 24, color: '#222', margin: 5,
      formatter: v => String(Math.round(v))},
    splitLine: {show: true, lineStyle: {color: '#e6e6e6', width: 1}},
    name: 'Iterations', nameLocation: 'middle', nameGap: 22,
    nameTextStyle: {fontFamily: FONT, fontSize: 26, color: '#222'}
  });
  yAxes.push({
    gridIndex: p, type: 'value', min: -0.02, max: 2.42,
    axisLine: {show: false},
    axisTick: {show: true, length: 4, customValues: Y_TICKS, lineStyle: {color: '#999'}},
    axisLabel: {customValues: Y_TICKS, fontFamily: FONT, fontSize: 24, color: '#222', margin: 6,
      formatter: v => Number(v).toFixed(1)},
    splitLine: {show: true, lineStyle: {color: '#e6e6e6', width: 1}},
    name: 'Loss', nameLocation: 'middle', nameGap: 35,
    nameTextStyle: {fontFamily: FONT, fontSize: 26, color: '#222'}
  });
  const t = PANEL_TITLES[p];
  titles.push({
    text: '{n|Training curves for }{m|ϵ}{n|=' + t[0] + ', C=' + t[1] + ', }{m|δ}{n|=' + t[2] + '}',
    left: gl + GW / 2, top: gt - 34, textAlign: 'center',
    textStyle: {fontWeight: 'normal', rich: {
      n: {fontFamily: FONT, fontSize: 32, color: '#111', fontWeight: 'normal'},
      m: {fontFamily: FONT, fontSize: 32, color: '#111', fontStyle: 'italic', fontWeight: 'normal'}}}
  });
  legends.push({
    data: SERIES_NAMES, orient: 'vertical', left: gl + 377, top: gt + 12,
    icon: 'rect', itemWidth: 67, itemHeight: 2, itemGap: 10,
    padding: [6, 10, 10, 8],
    backgroundColor: 'rgba(255,255,255,0.8)', borderColor: '#dcdcdc', borderWidth: 1, borderRadius: 4,
    selectedMode: false,
    formatter: name => name.replace('σ', '{i|σ}'),
    textStyle: {fontFamily: FONT, fontSize: 22, color: '#222', padding: [0, 0, 0, 12],
      rich: {i: {fontFamily: FONT, fontSize: 22, color: '#222', fontStyle: 'italic'}}}
  });
  panel.forEach((vals, k) => {
    series.push({
      type: 'line', name: SERIES_NAMES[k], xAxisIndex: p, yAxisIndex: p,
      data: vals.slice(0, ITER.length).map((v, i) => [ITER[i], v]),
      symbol: 'none', showSymbol: false, smooth: false,
      lineStyle: {color: SERIES_COLORS[k], width: 2},
      itemStyle: {color: SERIES_COLORS[k]},
      color: SERIES_COLORS[k],
      emphasis: {disabled: true}
    });
  });
});

chart.setOption({
  backgroundColor: '#ffffff', animation: false,
  title: titles, legend: legends, grid: grids, xAxis: xAxes, yAxis: yAxes, series: series
});
</script></body></html>
